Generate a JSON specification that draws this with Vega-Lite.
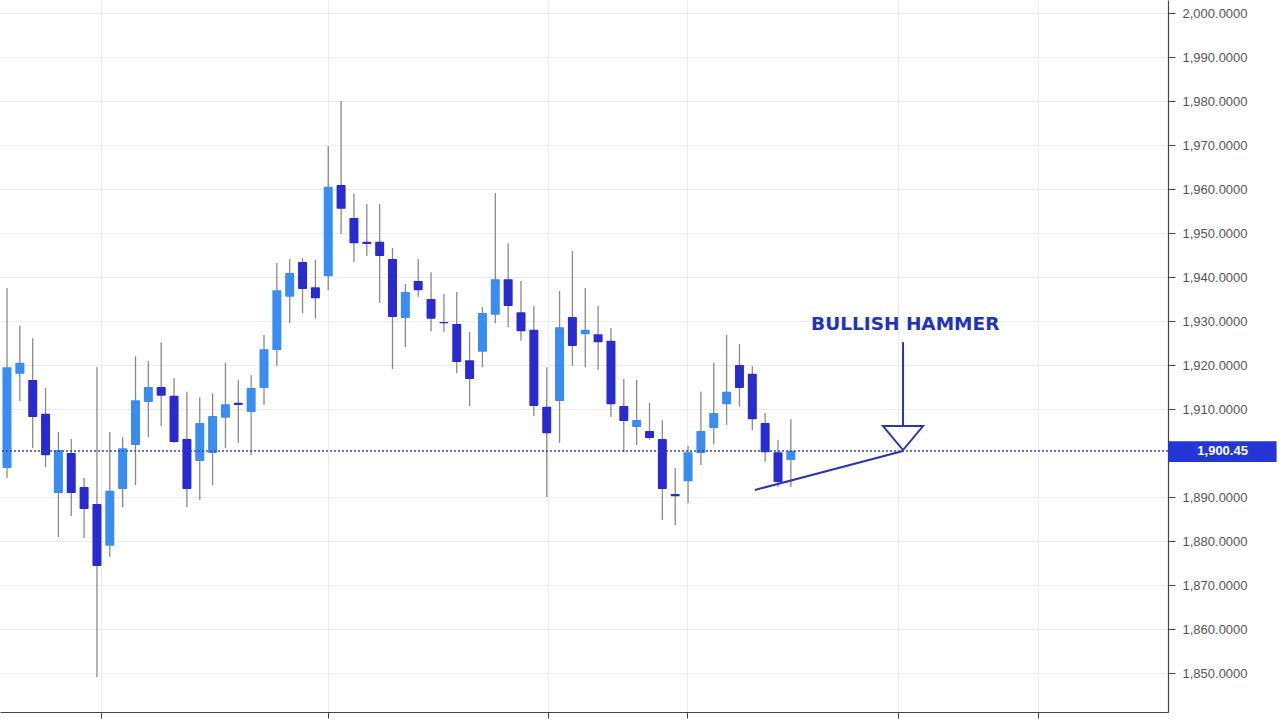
{
  "$schema": "https://vega.github.io/schema/vega-lite/v6.json",
  "width": 1168,
  "height": 712,
  "autosize": {"type": "none"},
  "padding": {"left": 0, "top": 0, "right": 112, "bottom": 8},
  "background": "white",
  "config": {
    "view": {"stroke": null},
    "axis": {"gridColor": "#ececec", "gridWidth": 1, "domainColor": "#444444", "tickColor": "#444444", "domainWidth": 1.2}
  },
  "datasets": {
    "candles": [
      {"i":0,"o":1896.6,"h":1937.5,"l":1894.3,"c":1919.5},
      {"i":1,"o":1918.0,"h":1928.9,"l":1911.8,"c":1920.5},
      {"i":2,"o":1916.6,"h":1926.1,"l":1901.1,"c":1908.2},
      {"i":3,"o":1908.9,"h":1914.8,"l":1896.8,"c":1899.5},
      {"i":4,"o":1890.9,"h":1904.8,"l":1880.9,"c":1900.7},
      {"i":5,"o":1900.0,"h":1903.2,"l":1885.7,"c":1890.9},
      {"i":6,"o":1892.3,"h":1894.3,"l":1880.7,"c":1887.3},
      {"i":7,"o":1888.4,"h":1919.5,"l":1849.1,"c":1874.3},
      {"i":8,"o":1878.9,"h":1904.8,"l":1876.4,"c":1891.4},
      {"i":9,"o":1891.8,"h":1903.6,"l":1887.7,"c":1901.1},
      {"i":10,"o":1901.8,"h":1922.0,"l":1892.7,"c":1912.0},
      {"i":11,"o":1911.6,"h":1920.9,"l":1903.6,"c":1915.0},
      {"i":12,"o":1915.0,"h":1925.2,"l":1906.1,"c":1913.0},
      {"i":13,"o":1913.0,"h":1917.0,"l":1902.3,"c":1902.5},
      {"i":14,"o":1903.2,"h":1913.9,"l":1887.7,"c":1891.8},
      {"i":15,"o":1898.2,"h":1912.7,"l":1889.3,"c":1906.8},
      {"i":16,"o":1900.0,"h":1913.6,"l":1892.7,"c":1908.4},
      {"i":17,"o":1908.0,"h":1920.5,"l":1901.1,"c":1911.1},
      {"i":18,"o":1911.4,"h":1916.6,"l":1902.3,"c":1910.9},
      {"i":19,"o":1909.3,"h":1917.7,"l":1899.5,"c":1914.8},
      {"i":20,"o":1914.8,"h":1926.8,"l":1910.9,"c":1923.6},
      {"i":21,"o":1923.4,"h":1943.2,"l":1919.8,"c":1937.0},
      {"i":22,"o":1935.5,"h":1944.1,"l":1929.5,"c":1940.9},
      {"i":23,"o":1943.4,"h":1944.3,"l":1931.8,"c":1937.3},
      {"i":24,"o":1937.7,"h":1943.9,"l":1930.5,"c":1935.2},
      {"i":25,"o":1940.2,"h":1969.8,"l":1937.0,"c":1960.5},
      {"i":26,"o":1960.9,"h":1980.0,"l":1949.8,"c":1955.5},
      {"i":27,"o":1953.4,"h":1958.9,"l":1943.4,"c":1947.7},
      {"i":28,"o":1948.0,"h":1956.6,"l":1944.8,"c":1947.5},
      {"i":29,"o":1948.0,"h":1956.6,"l":1934.1,"c":1944.8},
      {"i":30,"o":1944.1,"h":1946.6,"l":1919.1,"c":1930.9},
      {"i":31,"o":1930.7,"h":1938.4,"l":1924.1,"c":1936.6},
      {"i":32,"o":1939.1,"h":1944.1,"l":1935.5,"c":1937.0},
      {"i":33,"o":1935.0,"h":1941.1,"l":1927.7,"c":1930.5},
      {"i":34,"o":1929.8,"h":1936.1,"l":1927.5,"c":1929.5},
      {"i":35,"o":1929.3,"h":1936.6,"l":1918.2,"c":1920.7},
      {"i":36,"o":1921.1,"h":1927.5,"l":1910.7,"c":1916.8},
      {"i":37,"o":1923.0,"h":1933.2,"l":1919.5,"c":1931.8},
      {"i":38,"o":1931.4,"h":1959.1,"l":1929.5,"c":1939.5},
      {"i":39,"o":1939.5,"h":1947.7,"l":1928.6,"c":1933.4},
      {"i":40,"o":1932.0,"h":1939.1,"l":1925.5,"c":1927.7},
      {"i":41,"o":1928.0,"h":1933.4,"l":1908.4,"c":1910.7},
      {"i":42,"o":1910.5,"h":1919.5,"l":1890.0,"c":1904.5},
      {"i":43,"o":1911.8,"h":1936.8,"l":1902.3,"c":1928.6},
      {"i":44,"o":1930.9,"h":1945.9,"l":1919.8,"c":1924.3},
      {"i":45,"o":1927.0,"h":1937.5,"l":1919.5,"c":1928.0},
      {"i":46,"o":1927.0,"h":1933.4,"l":1918.9,"c":1925.2},
      {"i":47,"o":1925.5,"h":1928.4,"l":1908.2,"c":1911.1},
      {"i":48,"o":1910.7,"h":1916.8,"l":1900.2,"c":1907.3},
      {"i":49,"o":1905.9,"h":1916.6,"l":1901.8,"c":1907.5},
      {"i":50,"o":1905.0,"h":1911.4,"l":1903.0,"c":1903.4},
      {"i":51,"o":1903.2,"h":1907.5,"l":1884.8,"c":1891.8},
      {"i":52,"o":1890.7,"h":1896.6,"l":1883.6,"c":1890.2},
      {"i":53,"o":1893.6,"h":1901.6,"l":1888.6,"c":1900.2},
      {"i":54,"o":1900.0,"h":1913.9,"l":1897.3,"c":1905.0},
      {"i":55,"o":1905.7,"h":1920.5,"l":1902.0,"c":1909.1},
      {"i":56,"o":1911.1,"h":1926.8,"l":1906.4,"c":1913.9},
      {"i":57,"o":1920.0,"h":1924.8,"l":1910.5,"c":1914.8},
      {"i":58,"o":1918.0,"h":1919.8,"l":1905.2,"c":1907.7},
      {"i":59,"o":1906.8,"h":1909.1,"l":1898.0,"c":1900.2},
      {"i":60,"o":1900.2,"h":1903.0,"l":1892.3,"c":1893.4},
      {"i":61,"o":1898.4,"h":1907.7,"l":1892.3,"c":1900.5}
    ],
    "price": [{"p": 1900.45, "label": "1,900.45", "x1": 90.35, "x2": 98.8, "xm": 94.6, "y1": 1902.7, "y2": 1897.95}],
    "note": [{"label": "BULLISH HAMMER", "x": 69.9, "y": 1929.3, "ax": 69.73, "ay1": 1925.2, "ay2": 1906.1, "ty": 1903.4}],
    "trend": [{"x1": 58.2, "y1": 1891.6, "x2": 69.73, "y2": 1900.45}]
  },
  "layer": [
    {
      "data": {"name": "candles"},
      "mark": {"type": "rule", "color": "#8a8a8a", "strokeWidth": 1.3},
      "encoding": {
        "x": {"field": "i", "type": "quantitative", "scale": {"domain": [-0.545, 90.35], "nice": false, "zero": false, "padding": 0},
              "axis": {"title": null, "labels": false, "values": [7.3, 25, 42.1, 52.9, 69.3, 80.2], "tickSize": 6, "grid": true, "orient": "bottom"}},
        "y": {"field": "l", "type": "quantitative", "scale": {"domain": [1841.14, 2002.955], "nice": false, "zero": false, "padding": 0},
              "axis": {"title": null, "orient": "right", "format": ",.4f", "values": [1850,1860,1870,1880,1890,1910,1920,1930,1940,1950,1960,1970,1980,1990,2000],
                       "tickSize": 7, "labelPadding": 7, "labelFontSize": 13, "labelColor": "#555555", "labelFont": "Liberation Sans", "grid": true}},
        "y2": {"field": "h"}
      }
    },
    {
      "data": {"name": "candles"},
      "mark": {"type": "bar", "size": 9, "cornerRadius": 1},
      "encoding": {
        "x": {"field": "i", "type": "quantitative"},
        "y": {"field": "o", "type": "quantitative"},
        "y2": {"field": "c"},
        "color": {"condition": {"test": "datum.c >= datum.o", "value": "#3a8cf0"}, "value": "#2a2bcf"}
      }
    },
    {
      "data": {"name": "price"},
      "mark": {"type": "rule", "color": "#3344cc", "strokeWidth": 1.5, "strokeDash": [2, 2]},
      "encoding": {"y": {"field": "p", "type": "quantitative"}}
    },
    {
      "data": {"name": "trend"},
      "mark": {"type": "rule", "color": "#2b35b0", "strokeWidth": 2},
      "encoding": {
        "x": {"field": "x1", "type": "quantitative"},
        "x2": {"field": "x2"},
        "y": {"field": "y1", "type": "quantitative"},
        "y2": {"field": "y2"}
      }
    },
    {
      "data": {"name": "note"},
      "mark": {"type": "rule", "color": "#2b35b0", "strokeWidth": 2},
      "encoding": {
        "x": {"field": "ax", "type": "quantitative"},
        "y": {"field": "ay1", "type": "quantitative"},
        "y2": {"field": "ay2"}
      }
    },
    {
      "data": {"name": "note"},
      "mark": {"type": "point", "shape": "M-1,-0.6L1,-0.6L0,0.6Z", "size": 1600, "filled": true, "fill": "white", "stroke": "#2b35b0", "strokeWidth": 2, "opacity": 1},
      "encoding": {
        "x": {"field": "ax", "type": "quantitative"},
        "y": {"field": "ty", "type": "quantitative"}
      }
    },
    {
      "data": {"name": "note"},
      "mark": {"type": "text", "font": "DejaVu Sans", "fontWeight": "bold", "fontSize": 18.5, "color": "#2233bb", "align": "center", "baseline": "middle"},
      "encoding": {
        "x": {"field": "x", "type": "quantitative"},
        "y": {"field": "y", "type": "quantitative"},
        "text": {"field": "label"}
      }
    },
    {
      "data": {"name": "price"},
      "mark": {"type": "rect", "color": "#2436d6"},
      "encoding": {
        "x": {"field": "x1", "type": "quantitative"},
        "x2": {"field": "x2"},
        "y": {"field": "y1", "type": "quantitative"},
        "y2": {"field": "y2"}
      }
    },
    {
      "data": {"name": "price"},
      "mark": {"type": "text", "font": "Liberation Sans", "fontWeight": "bold", "fontSize": 13, "color": "white", "align": "center", "baseline": "middle"},
      "encoding": {
        "x": {"field": "xm", "type": "quantitative"},
        "y": {"field": "p", "type": "quantitative"},
        "text": {"field": "label"}
      }
    }
  ]
}
